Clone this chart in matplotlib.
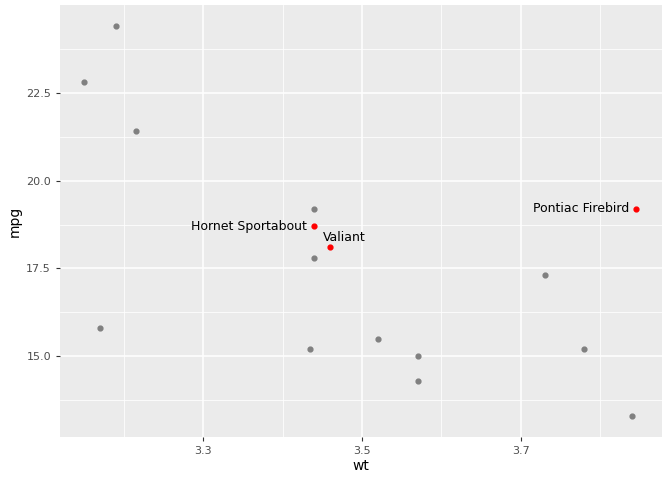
import matplotlib.pyplot as plt

# mtcars subset with wt between 3.15 and 3.85
names = ["Hornet 4 Drive", "Hornet Sportabout", "Valiant", "Duster 360", "Merc 240D",
         "Merc 230", "Merc 280", "Merc 280C", "Merc 450SL", "Merc 450SLC",
         "Dodge Challenger", "AMC Javelin", "Camaro Z28", "Pontiac Firebird",
         "Ford Pantera L", "Maserati Bora"]
wt = [3.215, 3.44, 3.46, 3.57, 3.19, 3.15, 3.44, 3.44, 3.73, 3.78,
      3.52, 3.435, 3.84, 3.845, 3.17, 3.57]
mpg = [21.4, 18.7, 18.1, 14.3, 24.4, 22.8, 19.2, 17.8, 17.3, 15.2,
       15.5, 15.2, 13.3, 19.2, 15.8, 15.0]
highlight = ["Hornet Sportabout", "Valiant", "Pontiac Firebird"]

fig = plt.figure(figsize=(6.72, 4.8), dpi=100)
ax = fig.add_axes([60 / 672, 43 / 480, 602 / 672, 432 / 480])
ax.set_facecolor("#EBEBEB")
ax.set_xlim(3.1198, 3.8778)
ax.set_ylim(12.70, 25.0)
ax.set_xticks([3.3, 3.5, 3.7])
ax.set_xticks([3.2, 3.4, 3.6, 3.8], minor=True)
ax.set_yticks([15, 17.5, 20, 22.5])
ax.set_yticks([13.75, 16.25, 18.75, 21.25, 23.75], minor=True)
ax.set_yticklabels(["15.0", "17.5", "20.0", "22.5"])
ax.grid(which="major", color="white", lw=1.1)
ax.grid(which="minor", color="white", lw=0.55)
ax.set_axisbelow(True)
for s in ax.spines.values():
    s.set_visible(False)
ax.tick_params(which="both", length=3, color="#333333", labelcolor="#4D4D4D", labelsize=8)
ax.tick_params(which="minor", length=0)

for n, x, y in zip(names, wt, mpg):
    if n not in highlight:
        ax.scatter(x, y, s=12, color="grey", zorder=3)
for n, x, y in zip(names, wt, mpg):
    if n in highlight:
        ax.scatter(x, y, s=12, color="red", zorder=4)

labels = {"Hornet Sportabout": (-5, 0, "right", "center"),
          "Valiant": (-5, 7, "left", "center"),
          "Pontiac Firebird": (-5, 0, "right", "center")}
for n, x, y in zip(names, wt, mpg):
    if n in labels:
        dx, dy, ha, va = labels[n]
        ax.annotate(n, (x, y), xytext=(dx, dy), textcoords="offset points",
                    ha=ha, va=va, fontsize=9)

ax.set_xlabel("wt", fontsize=10, labelpad=2)
ax.set_ylabel("mpg", fontsize=10, labelpad=3)
fig.savefig("out.png")
